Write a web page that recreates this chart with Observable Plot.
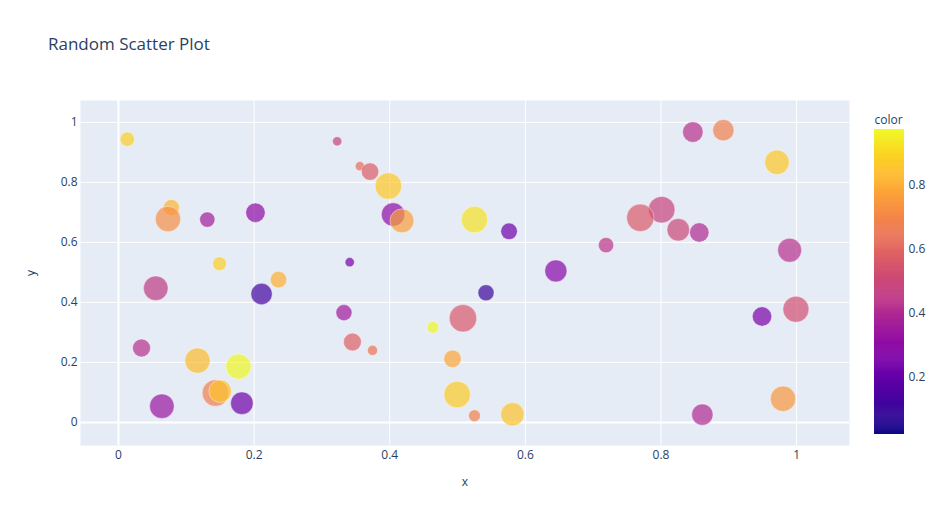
<!DOCTYPE html>
<html><head><meta charset="utf-8">
<script src="https://cdn.jsdelivr.net/npm/d3@7"></script>
<script src="https://cdn.jsdelivr.net/npm/@observablehq/plot@0.6"></script>
<style>
body{margin:0;background:#fff;font-family:"Open Sans",sans-serif;}
#wrap{position:relative;width:945px;height:525px;overflow:hidden;}
#title{position:absolute;left:48px;top:32px;font-size:17px;color:#2a3f5f;white-space:nowrap;}
#main{position:absolute;left:0;top:0;}
#cbar{position:absolute;left:850px;top:100px;}
</style></head><body>
<div id="wrap"><div id="main"></div><div id="cbar"></div><div id="title">Random Scatter Plot</div></div>
<script>
const xs = [0.013,0.078,0.073,0.131,0.202,0.149,0.236,0.3225,0.055,0.211,0.034,0.1165,0.177,0.143,0.150,0.182,0.064,0.356,0.371,0.398,0.405,0.418,0.525,0.576,0.341,0.645,0.3325,0.542,0.508,0.4636,0.345,0.3746,0.4926,0.4995,0.525,0.581,0.847,0.892,0.971,0.801,0.7695,0.8255,0.8565,0.719,0.9897,0.949,0.999,0.98,0.861];
const ys = [0.944,0.716,0.678,0.676,0.699,0.529,0.476,0.937,0.447,0.428,0.248,0.206,0.186,0.098,0.104,0.064,0.054,0.854,0.836,0.788,0.693,0.672,0.676,0.637,0.534,0.505,0.366,0.432,0.347,0.317,0.268,0.24,0.212,0.093,0.022,0.027,0.968,0.974,0.867,0.709,0.682,0.642,0.633,0.591,0.574,0.353,0.377,0.079,0.026];
const colors = [0.88,0.82,0.72,0.36,0.3,0.88,0.8,0.48,0.45,0.12,0.42,0.83,0.97,0.68,0.85,0.22,0.33,0.62,0.57,0.86,0.3,0.76,0.92,0.22,0.24,0.28,0.35,0.1,0.55,0.97,0.58,0.64,0.78,0.87,0.68,0.85,0.42,0.68,0.86,0.48,0.56,0.5,0.4,0.44,0.42,0.25,0.52,0.74,0.4];
const sizes = [0.27,0.33,0.82,0.30,0.48,0.25,0.35,0.11,0.77,0.58,0.41,0.82,0.82,0.90,0.65,0.65,0.77,0.11,0.39,0.90,0.70,0.73,0.90,0.35,0.11,0.62,0.33,0.33,0.96,0.18,0.41,0.13,0.39,0.90,0.18,0.70,0.54,0.58,0.77,0.90,0.96,0.65,0.48,0.30,0.73,0.48,0.86,0.82,0.58];
const xTicks = [0,0.2,0.4,0.6,0.8,1];
const yTicks = [0,0.2,0.4,0.6,0.8,1];
const cbTicks = [0.2,0.4,0.6,0.8];
const colorDomain = [0.02,0.975];

const data = xs.map((x,i)=>({x, y: ys[i], color: colors[i], size: sizes[i]}));
const fmt = d => String(d);
const font = '"Open Sans", sans-serif';

const main = Plot.plot({
  width:945, height:525, marginLeft:80, marginRight:96, marginTop:100, marginBottom:80,
  style:{fontFamily:font, fontSize:"12px", color:"#2a3f5f", background:"transparent"},
  x:{domain:[-0.056,1.078], ticks:xTicks, tickFormat:fmt, tickSize:0, tickPadding:5, label:"x", labelAnchor:"center", labelOffset:40, labelArrow:"none"},
  y:{domain:[-0.077,1.073], ticks:yTicks, tickFormat:fmt, tickSize:0, tickPadding:3, label:"y", labelAnchor:"center", labelOffset:54, labelArrow:"none"},
  color:{type:"linear", scheme:"plasma", domain:colorDomain},
  r:{type:"sqrt", domain:[0,1], range:[0,14]},
  marks:[
    Plot.frame({fill:"#E5ECF6", stroke:null}),
    Plot.ruleX(xTicks.filter(d=>d!==0), {stroke:"white", strokeWidth:1}),
    Plot.ruleY(yTicks.filter(d=>d!==0), {stroke:"white", strokeWidth:1}),
    Plot.ruleX([0], {stroke:"white", strokeWidth:2}),
    Plot.ruleY([0], {stroke:"white", strokeWidth:2}),
    Plot.dot(data, {x:"x", y:"y", r:"size", fill:"color", fillOpacity:0.7, stroke:"white", strokeWidth:0.5, strokeOpacity:0.8, sort:null})
  ]
});
document.getElementById("main").appendChild(main);

const N = 300;
const step = (colorDomain[1]-colorDomain[0])/N;
const ramp = d3.range(N).map(i => colorDomain[0] + step*i);
const cbar = Plot.plot({
  width:95, height:350, marginTop:29, marginBottom:16, marginLeft:24, marginRight:41,
  style:{fontFamily:font, fontSize:"12px", color:"#2a3f5f", background:"transparent"},
  x:{axis:null, domain:[0,1]},
  y:{domain:colorDomain, ticks:cbTicks, tickFormat:fmt, tickSize:0, tickPadding:4, axis:"right", label:null},
  color:{type:"linear", scheme:"plasma", domain:colorDomain},
  marks:[
    Plot.rect(ramp, {x1:0, x2:1, y1:d=>d, y2:d=>Math.min(colorDomain[1], d+step*1.5), fill:d=>d}),
    Plot.text(["color"], {frameAnchor:"top-left", dy:-14, textAnchor:"start", fontSize:12, fill:"#2a3f5f"})
  ]
});
document.getElementById("cbar").appendChild(cbar);
</script>
</body></html>
